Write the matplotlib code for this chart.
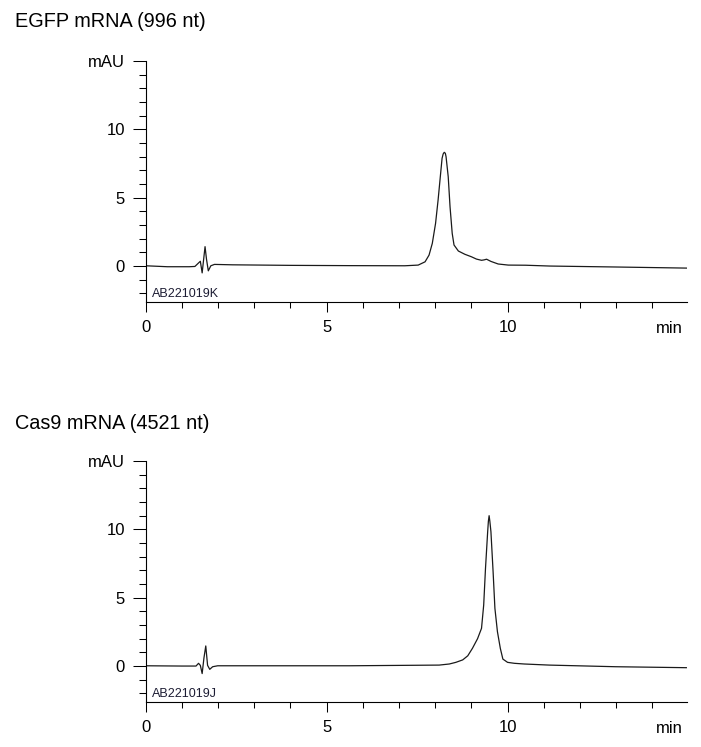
import matplotlib
matplotlib.use("Agg")
import matplotlib.pyplot as plt
from matplotlib.ticker import MultipleLocator, FixedLocator

plt.rcParams['font.family'] = ['Liberation Sans', 'DejaVu Sans']

# ---------------- data ----------------
titles = ["EGFP mRNA (996 nt)", "Cas9 mRNA (4521 nt)"]
sample_ids = ["AB221019K", "AB221019J"]

egfp_time = [0.0, 0.6, 1.2, 1.36, 1.45, 1.51, 1.56, 1.64, 1.68, 1.73, 1.80, 1.90,
             2.4, 4.0, 5.64, 7.16, 7.53, 7.72, 7.83, 7.92, 8.01, 8.08, 8.15, 8.19,
             8.22, 8.25, 8.28, 8.30, 8.36, 8.41, 8.47, 8.52, 8.64, 8.82, 9.00,
             9.14, 9.28, 9.35, 9.42, 9.54, 9.74, 10.02, 10.5, 11.17, 13.0, 14.95]
egfp_mau = [0.02, -0.05, -0.05, -0.03, 0.20, 0.35, -0.50, 1.42, 0.50, -0.35, 0.02, 0.12,
            0.09, 0.05, 0.03, 0.02, 0.07, 0.31, 0.80, 1.66, 3.12, 4.83, 6.78, 7.88,
            8.20, 8.32, 8.25, 8.00, 6.53, 4.34, 2.39, 1.54, 1.10, 0.86, 0.68,
            0.51, 0.42, 0.45, 0.50, 0.34, 0.15, 0.07, 0.06, 0.00, -0.07, -0.15]

cas9_time = [0.0, 1.0, 1.39, 1.46, 1.51, 1.56, 1.61, 1.66, 1.71, 1.77, 1.85, 1.99,
             4.0, 5.63, 8.11, 8.39, 8.57, 8.76, 8.90, 9.03, 9.17, 9.28, 9.34, 9.39,
             9.45, 9.47, 9.49, 9.51, 9.54, 9.60, 9.65, 9.72, 9.80, 9.87, 10.0,
             10.19, 10.46, 11.15, 12.99, 14.94]
cas9_mau = [0.02, 0.00, 0.00, 0.20, 0.05, -0.55, 0.60, 1.47, 0.05, -0.24, -0.05, 0.02,
            0.02, 0.02, 0.07, 0.15, 0.27, 0.45, 0.75, 1.30, 2.00, 2.76, 4.46, 7.15,
            9.83, 10.6, 11.0, 10.6, 9.83, 6.90, 4.22, 2.51, 1.29, 0.51, 0.27,
            0.20, 0.15, 0.07, -0.05, -0.12]

series = [(egfp_time, egfp_mau), (cas9_time, cas9_mau)]

x_major = [0, 5, 10]
x_major_labels = ["0", "5", "10"]
y_major = [0, 5, 10, 15]
y_major_labels = ["0", "5", "10", "mAU"]
x_unit = "min"

# ---------------- layout ----------------
W, H = 701, 747
fig = plt.figure(figsize=(W / 100, H / 100), dpi=100)

left = 145.7 / W
width = (686.7 - 145.7) / W
height = (302 - 61) / H
bottoms = [1 - 302 / H, 1 - 702 / H]
title_y = [21.7, 423.0]

for i in range(2):
    ax = fig.add_axes([left, bottoms[i], width, height])
    t, v = series[i]
    ax.plot(t, v, color="#1a1a1a", lw=0.9, solid_joinstyle="round")
    ax.set_xlim(0, 14.95)
    ax.set_ylim(-2.63, 15)

    for s in ("top", "right"):
        ax.spines[s].set_visible(False)
    for s in ("left", "bottom"):
        ax.spines[s].set_linewidth(0.8)
        ax.spines[s].set_color("black")

    ax.xaxis.set_major_locator(FixedLocator(x_major))
    ax.set_xticklabels(x_major_labels)
    ax.xaxis.set_minor_locator(MultipleLocator(1))
    ax.yaxis.set_major_locator(FixedLocator(y_major))
    ax.set_yticklabels(y_major_labels)
    ax.yaxis.set_minor_locator(MultipleLocator(1))

    ax.tick_params(axis="x", which="major", length=7.2, width=0.75, pad=6.0,
                   labelsize=12, colors="black")
    ax.tick_params(axis="x", which="minor", length=4.3, width=0.75)
    ax.tick_params(axis="y", which="major", length=9.4, width=0.75, pad=5.5,
                   labelsize=12, colors="black")
    ax.tick_params(axis="y", which="minor", length=4.7, width=0.75)

    ax.text(0.993, -0.108, x_unit, transform=ax.transAxes, ha="right", va="center",
            fontsize=12, color="black")
    ax.text(0.17, -2.05, sample_ids[i], ha="left", va="center", fontsize=9,
            color="#1c1c33")

    fig.text(15 / W, 1 - title_y[i] / H, titles[i], ha="left", va="center",
             fontsize=14.3, color="black")

fig.savefig("out.png", dpi=100)
